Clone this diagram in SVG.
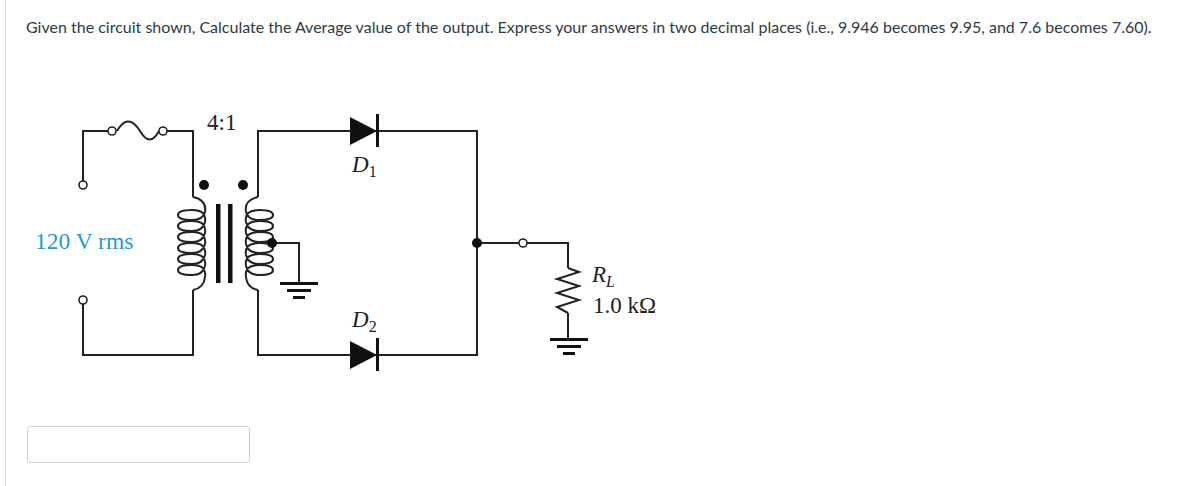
<svg xmlns="http://www.w3.org/2000/svg" width="1194" height="486" viewBox="0 0 1194 486">
<style>
.w{fill:none;stroke:#222;stroke-width:2}
.c{fill:#fff;stroke:#222;stroke-width:1.6}
.d{fill:#111}
.t{font-family:"Liberation Serif",serif;font-size:23px;fill:#222}
</style>
<rect width="1194" height="486" fill="#fff"/>
<line x1="5.5" y1="0" x2="5.5" y2="486" stroke="#ddd"/>
<text x="26" y="33" font-family="Lato,sans-serif" font-size="16" fill="#2d3b45">Given the circuit shown, Calculate the Average value of the output. Express your answers in two decimal places (i.e., 9.946 becomes 9.95, and 7.6 becomes 7.60).</text>
<g id="connectors">
<path class="w" d="M83 181V131H108M117 131Q128 112 140 131Q150 148 159 131M167 131H193V197M193 290V355H83V304"/>
<path class="w" d="M258 197V131H377M377 131H477V355H258V290"/>
<path class="w" d="M272 243H299V283M477 243H519M527 243H568V268M568 313V339"/>
</g>
<g id="fuse"><circle class="c" cx="112" cy="131" r="4"/><circle class="c" cx="163" cy="131" r="4"/></g>
<g id="terminals"><circle class="c" cx="83" cy="185" r="4"/><circle class="c" cx="83" cy="300" r="4"/><circle class="c" cx="523" cy="243" r="4"/></g>
<g id="transformer">
<path class="w" stroke-width="2.4" d="M193 197Q207 200 205 212Q203 220 192 220Q178 220 178 215Q178 210 192 210Q207 210 205 222Q203 231 192 231Q178 231 178 226Q178 221 192 221Q207 221 205 233Q203 242 192 242Q178 242 178 237Q178 232 192 232Q207 232 205 244Q203 253 192 253Q178 253 178 248Q178 243 192 243Q207 243 205 255Q203 264 192 264Q178 264 178 259Q178 254 192 254Q207 254 205 266Q203 275 192 275Q178 275 178 270Q178 265 192 265Q207 265 205 277Q204 288 193 290"/>
<path class="w" stroke-width="2.4" d="M258 197Q244 200 246 212Q248 220 259 220Q273 220 273 215Q273 210 259 210Q244 210 246 222Q248 231 259 231Q273 231 273 226Q273 221 259 221Q244 221 246 233Q248 242 259 242Q273 242 273 237Q273 232 259 232Q244 232 246 244Q248 253 259 253Q273 253 273 248Q273 243 259 243Q244 243 246 255Q248 264 259 264Q273 264 273 259Q273 254 259 254Q244 254 246 266Q248 275 259 275Q273 275 273 270Q273 265 259 265Q244 265 246 277Q247 288 258 290"/>
<rect x="216" y="204" width="4.5" height="79" class="d"/><rect x="228" y="204" width="4.5" height="79" class="d"/>
<circle class="d" cx="204" cy="185" r="5"/><circle class="d" cx="243" cy="185" r="5"/><circle class="d" cx="272" cy="243" r="5"/>
<text class="t" x="207" y="130">4:1</text>
</g>
<g id="ground1"><rect class="d" x="280" y="282" width="38" height="3"/><rect class="d" x="287" y="289" width="24" height="3"/><rect class="d" x="293" y="296" width="12" height="3"/></g>
<g id="D1"><path class="d" d="M350 117L377 131L350 145Z"/><rect class="d" x="376" y="114" width="3" height="33"/><text class="t" x="352" y="172" font-style="italic">D<tspan font-style="normal" font-size="16" dy="5">1</tspan></text></g>
<g id="D2"><path class="d" d="M350 341L377 355L350 369Z"/><rect class="d" x="376" y="338" width="3" height="33"/><text class="t" x="352" y="327" font-style="italic">D<tspan font-style="normal" font-size="16" dy="5">2</tspan></text></g>
<circle class="d" cx="477" cy="243" r="5"/>
<g id="RL"><path class="w" d="M568 268L579 272L557 279L579 286L557 293L579 300L557 307L568 313"/>
<text class="t" x="592" y="282" font-style="italic">R<tspan font-size="16" dy="5">L</tspan></text><text class="t" x="593" y="313">1.0 kΩ</text></g>
<g id="ground2"><rect class="d" x="550" y="338" width="38" height="3"/><rect class="d" x="557" y="345" width="24" height="3"/><rect class="d" x="563" y="352" width="12" height="3"/></g>
<text x="35" y="249" font-family="Liberation Serif,serif" font-size="23.5" fill="#1e9cd7">120 V rms</text>
<rect x="27.5" y="426.5" width="222" height="36" rx="3" fill="#fff" stroke="#c7cdd1"/>
</svg>
